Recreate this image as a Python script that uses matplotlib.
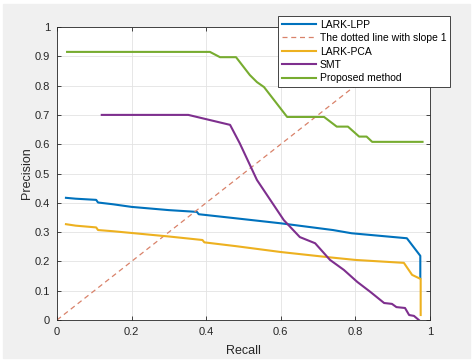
import numpy as np
import matplotlib.pyplot as plt

plt.rcParams['font.family'] = ['Liberation Sans', 'DejaVu Sans']

# LARK-LPP
lpp_recall = [0.024, 0.05, 0.105, 0.11, 0.15, 0.2, 0.3, 0.375, 0.38, 0.48,
              0.6, 0.74, 0.79, 0.938, 0.974, 0.974]
lpp_prec = [0.417, 0.414, 0.41, 0.401, 0.395, 0.386, 0.375, 0.369, 0.361, 0.347,
            0.33, 0.307, 0.296, 0.279, 0.219, 0.143]

# dotted reference line
ref_x = [0.0, 1.0]
ref_y = [0.0, 1.0]

# LARK-PCA
pca_recall = [0.024, 0.05, 0.105, 0.11, 0.15, 0.2, 0.3, 0.39, 0.395, 0.48,
              0.6, 0.73, 0.8, 0.93, 0.952, 0.975, 0.975]
pca_prec = [0.327, 0.322, 0.316, 0.307, 0.303, 0.297, 0.285, 0.273, 0.265, 0.252,
            0.232, 0.214, 0.205, 0.195, 0.154, 0.14, 0.017]

# SMT
smt_recall = [0.12, 0.352, 0.464, 0.49, 0.536, 0.608, 0.651, 0.692, 0.732, 0.769,
              0.805, 0.84, 0.877, 0.898, 0.91, 0.933, 0.944, 0.957, 0.97]
smt_prec = [0.70, 0.70, 0.666, 0.603, 0.478, 0.341, 0.283, 0.262, 0.205, 0.171,
            0.13, 0.096, 0.058, 0.055, 0.044, 0.041, 0.017, 0.014, 0.0]

# Proposed method
prop_recall = [0.027, 0.41, 0.437, 0.48, 0.517, 0.536, 0.555, 0.617, 0.716, 0.75,
               0.78, 0.81, 0.83, 0.845, 0.98]
prop_prec = [0.915, 0.915, 0.897, 0.897, 0.836, 0.812, 0.795, 0.693, 0.693, 0.66,
             0.66, 0.626, 0.626, 0.608, 0.608]

fig = plt.figure(figsize=(4.74, 3.62), dpi=100, facecolor='white')
fig.patches.append(plt.Rectangle((3 / 474, 4 / 362), 467 / 474, 354 / 362,
                                 transform=fig.transFigure, color='#f0f0f0', zorder=-1))
ax = fig.add_axes([57 / 474, 42 / 362, 373 / 474, 293 / 362])

ax.plot(lpp_recall, lpp_prec, color='#0072BD', lw=1.5, label='LARK-LPP')
ax.plot(ref_x, ref_y, color='#d9826a', lw=0.9, dashes=(4, 3),
        label='The dotted line with slope 1')
ax.plot(pca_recall, pca_prec, color='#EDB120', lw=1.5, label='LARK-PCA')
ax.plot(smt_recall, smt_prec, color='#7E2F8E', lw=1.5, label='SMT')
ax.plot(prop_recall, prop_prec, color='#77AC30', lw=1.5, label='Proposed method')

ax.set_xlim(0, 1)
ax.set_ylim(0, 1)
ax.set_xticks(np.arange(0, 1.01, 0.2))
ax.set_yticks(np.arange(0, 1.01, 0.1))
ax.set_xticklabels(['0', '0.2', '0.4', '0.6', '0.8', '1'])
ax.set_yticklabels(['0'] + ['%.1f' % v for v in np.arange(0.1, 0.95, 0.1)] + ['1'])
ax.tick_params(direction='in', top=True, right=True, length=3, width=0.6,
               labelsize=8, colors='#262626', pad=5)
ax.grid(True, color='#e3e3e3', lw=0.6)
ax.set_axisbelow(True)
for s in ax.spines.values():
    s.set_color('#262626')
    s.set_linewidth(0.6)

ax.set_xlabel('Recall', fontsize=9, color='#262626', labelpad=6)
ax.set_ylabel('Precision', fontsize=9, color='#262626', labelpad=1)

leg = ax.legend(loc='upper right', bbox_to_anchor=(450 / 474, 1 - 16 / 362),
                bbox_transform=fig.transFigure, fontsize=7.5, frameon=True,
                fancybox=False, borderpad=0.35, labelspacing=0.33,
                handlelength=3.3, handletextpad=0.35, borderaxespad=0)
leg.get_frame().set_edgecolor('#262626')
leg.get_frame().set_linewidth(0.6)
leg.get_frame().set_alpha(1)

plt.savefig('out.png', dpi=100, facecolor=fig.get_facecolor())
